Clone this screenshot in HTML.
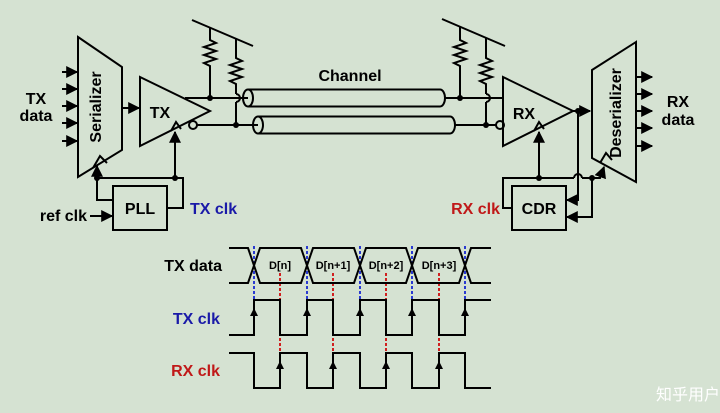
<!DOCTYPE html>
<html><head><meta charset="utf-8"><style>
html,body{margin:0;padding:0;background:#d5e2d2;}
svg{display:block;}
text{font-family:"Liberation Sans",Arial,sans-serif;font-weight:bold;}
</style></head><body>
<svg width="720" height="413" viewBox="0 0 720 413" xmlns="http://www.w3.org/2000/svg">
<defs>
<marker id="a" viewBox="0 0 10 10" refX="9" refY="5" markerWidth="6" markerHeight="6" orient="auto"><path d="M0,0 L10,5 L0,10 z" fill="#000"/></marker>
</defs>
<rect width="720" height="413" fill="#d5e2d2"/>
<g stroke="#000" stroke-width="2" fill="none">
<!-- Serializer -->
<polygon points="78,37 122,67 122,150 78,177"/>
<polyline points="93,168 100,156 107,163"/>
<line x1="62" y1="72" x2="77" y2="72" marker-end="url(#a)"/>
<line x1="62" y1="89" x2="77" y2="89" marker-end="url(#a)"/>
<line x1="62" y1="106" x2="77" y2="106" marker-end="url(#a)"/>
<line x1="62" y1="123" x2="77" y2="123" marker-end="url(#a)"/>
<line x1="62" y1="141" x2="77" y2="141" marker-end="url(#a)"/>
<line x1="122" y1="108" x2="139" y2="108" marker-end="url(#a)"/>
<!-- TX -->
<polygon points="140,77 210,111 140,146"/>
<polyline points="171,131 176,122 181,129"/>
<circle cx="193" cy="125" r="4"/>
<line x1="185" y1="98" x2="248" y2="98"/>
<line x1="197" y1="125" x2="258" y2="125"/>
<!-- TX resistors -->
<line x1="192" y1="20" x2="253" y2="46"/>
<polyline points="210,27 210,40 216,43 204,47 216,51 204,55 216,59 204,63 210,66 210,98"/>
<polyline points="236,38 236,58 242,61 230,65 242,69 230,73 242,77 230,81 236,84 236,94"/>
<path d="M236,94 a4,4 0 0 1 0,8"/>
<line x1="236" y1="102" x2="236" y2="125"/>
<!-- Cables -->
<path d="M248,89.5 L440,89.5 A5,8.5 0 0 1 440,106.5 L248,106.5"/>
<ellipse cx="248" cy="98" rx="5" ry="8.5"/>
<path d="M258,116.5 L450,116.5 A5,8.5 0 0 1 450,133.5 L258,133.5"/>
<ellipse cx="258" cy="125" rx="5" ry="8.5"/>
<!-- RX side -->
<line x1="445" y1="98" x2="503" y2="98"/>
<line x1="455" y1="125" x2="496" y2="125"/>
<circle cx="500" cy="125" r="4"/>
<line x1="442" y1="19" x2="505" y2="46"/>
<polyline points="460,27 460,40 466,43 454,47 466,51 454,55 466,59 454,63 460,66 460,98"/>
<polyline points="486,38 486,58 492,61 480,65 492,69 480,73 492,77 480,81 486,84 486,94"/>
<path d="M486,94 a4,4 0 0 1 0,8"/>
<line x1="486" y1="102" x2="486" y2="125"/>
<polygon points="503,77 573,111 503,146"/>
<polyline points="534,131 539,122 544,129"/>
<line x1="573" y1="111" x2="590" y2="111" marker-end="url(#a)"/>
<!-- Deserializer -->
<polygon points="592,70 636,42 636,182 592,158"/>
<polyline points="600,163 606,153 612,160"/>
<line x1="636" y1="77" x2="652" y2="77" marker-end="url(#a)"/>
<line x1="636" y1="94" x2="652" y2="94" marker-end="url(#a)"/>
<line x1="636" y1="111" x2="652" y2="111" marker-end="url(#a)"/>
<line x1="636" y1="128" x2="652" y2="128" marker-end="url(#a)"/>
<line x1="636" y1="146" x2="652" y2="146" marker-end="url(#a)"/>
<!-- CDR -->
<rect x="512" y="186" width="54" height="44"/>
<line x1="539" y1="178" x2="539" y2="132" marker-end="url(#a)"/>
<polyline points="539,178 503,178 503,208 512,208"/>
<line x1="539" y1="178" x2="574" y2="178"/>
<path d="M574,178 a4,4 0 0 1 8,0"/>
<line x1="582" y1="178" x2="592" y2="178"/>
<polyline points="592,178 600,178 604,167" marker-end="url(#a)"/>
<polyline points="578,111 578,200 567,200" marker-end="url(#a)"/>
<polyline points="592,178 592,217 567,217" marker-end="url(#a)"/>
<!-- PLL -->
<rect x="113" y="186" width="54" height="44"/>
<line x1="90" y1="216" x2="112" y2="216" marker-end="url(#a)"/>
<polyline points="113,200 97,200 97,178 183,178 183,208 167,208"/>
<line x1="97" y1="178" x2="97" y2="166" marker-end="url(#a)"/>
<line x1="175" y1="178" x2="175" y2="132" marker-end="url(#a)"/>
</g>
<g fill="#000">
<circle cx="210" cy="98" r="3"/><circle cx="236" cy="125" r="3"/>
<circle cx="460" cy="98" r="3"/><circle cx="486" cy="125" r="3"/>
<circle cx="578" cy="111" r="3"/><circle cx="539" cy="178" r="3"/><circle cx="592" cy="178" r="3"/>
<circle cx="97" cy="178" r="3"/><circle cx="175" cy="178" r="3"/>
</g>
<g font-size="16" fill="#000">
<text x="36" y="104" text-anchor="middle">TX</text>
<text x="36" y="121" text-anchor="middle">data</text>
<text transform="translate(101,107) rotate(-90)" text-anchor="middle">Serializer</text>
<text x="160" y="118" text-anchor="middle">TX</text>
<text x="350" y="81" text-anchor="middle">Channel</text>
<text x="524" y="119" text-anchor="middle">RX</text>
<text transform="translate(621,113) rotate(-90)" text-anchor="middle">Deserializer</text>
<text x="678" y="107" text-anchor="middle">RX</text>
<text x="678" y="125" text-anchor="middle">data</text>
<text x="140" y="214" text-anchor="middle">PLL</text>
<text x="539" y="214" text-anchor="middle">CDR</text>
<text x="87" y="221" text-anchor="end">ref clk</text>
<text x="190" y="214" fill="#1a1aa8">TX clk</text>
<text x="500" y="214" text-anchor="end" fill="#c01818">RX clk</text>
<text x="222" y="271" text-anchor="end">TX data</text>
<text x="220" y="324" text-anchor="end" fill="#1a1aa8">TX clk</text>
<text x="220" y="376" text-anchor="end" fill="#c01818">RX clk</text>
</g>
<!-- timing -->
<g stroke-width="2" stroke-dasharray="3,2" fill="none">
<g stroke="#2a3ad0">
<line x1="254" y1="246" x2="254" y2="300"/><line x1="307" y1="246" x2="307" y2="300"/>
<line x1="360" y1="246" x2="360" y2="300"/><line x1="412" y1="246" x2="412" y2="300"/>
<line x1="465" y1="246" x2="465" y2="300"/>
</g>
<g stroke="#d02020">
<line x1="280" y1="273" x2="280" y2="353"/><line x1="333" y1="273" x2="333" y2="353"/>
<line x1="386" y1="273" x2="386" y2="353"/><line x1="439" y1="273" x2="439" y2="353"/>
</g>
</g>
<g stroke="#000" stroke-width="2" fill="none">
<path d="M229,248 H248 L260,283 H301 L313,248 H354 L366,283 H406 L418,248 H459 L471,283 H491"/>
<path d="M229,283 H248 L260,248 H301 L313,283 H354 L366,248 H406 L418,283 H459 L471,248 H491"/>
<path d="M229,335 H254 V300 H280 V335 H307 V300 H333 V335 H360 V300 H386 V335 H412 V300 H439 V335 H465 V300 H491"/>
<path d="M229,353 H254 V388 H280 V353 H307 V388 H333 V353 H360 V388 H386 V353 H412 V388 H439 V353 H465 V388 H491"/>
</g>
<g fill="#000">
<polygon points="254,308 250,316 258,316"/><polygon points="307,308 303,316 311,316"/>
<polygon points="360,308 356,316 364,316"/><polygon points="412,308 408,316 416,316"/>
<polygon points="465,308 461,316 469,316"/>
<polygon points="280,361 276,369 284,369"/><polygon points="333,361 329,369 337,369"/>
<polygon points="386,361 382,369 390,369"/><polygon points="439,361 435,369 443,369"/>
</g>
<g font-size="11" fill="#000" text-anchor="middle">
<text x="280" y="269">D[n]</text><text x="333" y="269">D[n+1]</text>
<text x="386" y="269">D[n+2]</text><text x="439" y="269">D[n+3]</text>
</g>
<text x="688" y="400" font-size="16" fill="#ffffff" text-anchor="middle" style="font-family:'Liberation Sans','Noto Sans CJK SC',sans-serif;font-weight:normal">知乎用户</text>
</svg>
</body></html>
